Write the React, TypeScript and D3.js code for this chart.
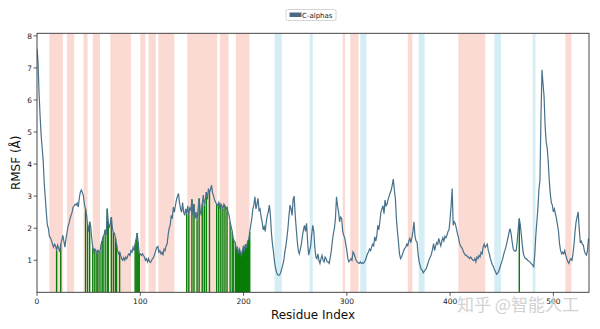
import React from "react";
import * as d3 from "d3";

// RMSF per residue (index = residue number)
const rmsf: number[] = [
  7.6, 7.2, 6.2, 5.5, 4.9, 4.5, 4.1, 3.4, 2.95, 2.5,
  2.1, 2.0, 1.75, 1.7, 1.62, 1.5, 1.41, 1.5, 1.45, 1.3,
  1.47, 1.38, 1.26, 1.5, 1.62, 1.78, 1.6, 1.41, 1.65, 1.85,
  2.05, 2.15, 2.3, 2.4, 2.5, 2.66, 2.7, 2.75, 2.72, 2.78,
  2.66, 2.95, 3.13, 3.19, 3.1, 3.0, 2.72, 2.6, 2.41, 2.1,
  1.89, 2.2, 2.05, 1.68, 1.4, 1.26, 1.35, 1.31, 1.2, 1.31,
  1.28, 1.26, 1.5, 1.6, 1.73, 1.8, 1.95, 1.8, 2.61, 2.2,
  2.0, 2.15, 2.35, 2.0, 1.85, 1.85, 1.7, 1.5, 1.3, 1.2,
  1.25, 1.15, 1.05, 1.0, 1.08, 1.0, 1.1, 1.05, 1.15, 1.2,
  1.15, 1.3, 1.25, 1.4, 1.3, 1.5, 1.65, 1.85, 1.55, 1.2,
  1.2, 1.15, 1.2, 1.15, 1.1, 1.0, 1.05, 0.95, 1.05, 0.95,
  0.93, 1.0, 1.05, 1.1, 1.2, 1.3, 1.4, 1.43, 1.25, 1.3,
  1.2, 1.25, 1.15, 1.35, 1.3, 1.45, 1.5, 1.8, 2.0, 2.1,
  2.4, 2.3, 2.66, 2.5, 2.7, 2.88, 3.0, 3.08, 2.8, 2.6,
  2.5, 2.8, 2.5, 2.4, 2.6, 2.45, 2.7, 2.4, 2.65, 2.55,
  2.9, 2.4, 2.75, 2.3, 2.5, 2.25, 2.6, 2.93, 2.55, 2.4,
  2.75, 3.03, 2.7, 2.9, 3.13, 2.9, 3.24, 3.1, 3.2, 3.34,
  3.1, 3.0, 2.88, 2.8, 2.75, 2.72, 2.8, 2.6, 2.75, 2.7,
  2.6, 2.75, 2.7, 2.6, 2.65, 2.5, 2.4, 2.2, 2.04, 1.9,
  1.68, 1.6, 1.55, 1.35, 1.4, 1.2, 1.35, 1.25, 1.15, 1.3,
  1.45, 1.3, 1.5, 1.4, 1.6, 1.65, 1.89, 2.1, 2.3, 2.6,
  2.72, 2.98, 2.6, 2.75, 2.93, 2.55, 2.6, 2.35, 2.2, 1.95,
  2.05, 1.9, 2.2, 2.4, 2.51, 2.72, 2.4, 1.85, 1.5, 1.26,
  0.95, 0.75, 0.62, 0.55, 0.53, 0.55, 0.62, 0.74, 0.85, 1.0,
  1.26, 1.45, 1.7, 2.0, 2.4, 2.72, 2.6, 2.4, 2.9, 3.0,
  2.41, 2.0, 1.6, 1.3, 1.2, 1.35, 1.5, 1.75, 1.95, 2.09,
  1.9, 2.15, 1.6, 1.16, 1.3, 1.45, 1.8, 2.09, 1.9, 1.4,
  1.1, 1.05, 1.2, 1.0, 0.9, 1.05, 1.15, 1.0, 0.95, 1.1,
  1.05, 0.95, 0.95, 0.9, 1.1, 1.3, 1.6, 1.83, 2.0, 2.3,
  2.98, 2.7, 2.51, 2.2, 2.35, 2.3, 1.9, 1.78, 1.7, 1.5,
  1.3, 1.05, 0.95, 1.0, 1.05, 1.0, 1.26, 1.2, 1.1, 1.0,
  0.95, 0.92, 0.9, 0.95, 0.9, 0.92, 0.9, 0.95, 1.0, 1.1,
  1.2, 1.26, 1.35, 1.3, 1.41, 1.5, 1.45, 1.73, 1.6, 1.75,
  2.09, 1.95, 2.2, 2.5, 2.61, 2.7, 2.45, 2.88, 2.7, 2.75,
  2.9, 3.0, 3.1, 3.19, 3.35, 3.53, 3.2, 2.93, 2.3, 1.9,
  1.57, 1.2, 1.05, 1.1, 1.2, 1.3, 1.37, 1.4, 1.5, 1.45,
  1.6, 1.68, 1.55, 1.7, 1.9, 2.2, 1.75, 1.6, 1.57, 1.2,
  0.95, 0.84, 0.72, 0.69, 0.61, 0.65, 0.7, 0.75, 0.85, 0.95,
  1.05, 1.11, 1.2, 1.35, 1.52, 1.3, 1.45, 1.55, 1.5, 1.68,
  1.55, 1.45, 1.6, 1.7, 1.6, 1.75, 1.7, 1.78, 1.9, 1.95,
  2.3, 2.7, 3.24, 2.09, 2.2, 2.15, 2.0, 1.85, 1.73, 1.55,
  1.45, 1.4, 1.35, 1.26, 1.2, 1.15, 1.15, 1.1, 1.1, 1.05,
  1.1, 1.05, 1.0, 0.99, 1.05, 0.95, 1.1, 1.05, 1.15, 1.1,
  1.25, 1.2, 1.41, 1.5, 1.4, 1.45, 1.5, 1.3, 1.2, 1.05,
  0.95, 0.85, 0.8, 0.7, 0.64, 0.56, 0.6, 0.65, 0.75, 0.85,
  0.95, 1.05, 1.2, 1.3, 1.41, 1.55, 1.7, 1.85, 1.99, 1.85,
  1.6, 1.37, 1.3, 1.28, 1.3, 1.6, 1.99, 2.3, 2.1, 1.8,
  1.45, 1.2, 1.1, 1.05, 1.05, 1.0, 0.98, 0.95, 0.92, 0.88,
  0.85, 0.8, 1.2, 1.78, 2.2, 2.61, 3.2, 3.5, 5.5, 6.94,
  6.5, 6.1, 5.2, 4.7, 4.5, 4.1, 3.5, 3.08, 2.8, 2.72,
  2.51, 2.6, 2.45, 2.3, 2.1, 1.89, 1.5, 1.3, 1.2, 1.25,
  1.2, 1.3, 1.15, 1.05, 0.95, 0.9, 1.0, 1.05, 1.0, 1.2,
  1.5, 1.9, 2.2, 2.35, 2.51, 2.0, 1.57, 1.6, 1.5, 1.47,
  1.3, 1.2, 1.16, 1.3, 1.68,
];

// Highlighted residues (green sticks)
const highlighted: number[] = [
  19, 23, 47, 49, 51, 54, 56, 58, 59, 61, 63, 64, 66, 68, 69, 72, 74, 76, 77, 80,
  95, 96, 97, 98, 99,
  145, 147, 150, 152, 155, 157, 160, 162, 164, 167, 174, 176, 178, 180, 182, 184,
  187, 189, 190, 192, 193, 194, 195, 196, 197, 198, 199, 200, 201, 202, 203, 204,
  205, 206, 467,
];

// Shaded regions [start, end] in residue units
const pinkSpans: [number, number][] = [
  [12, 25], [29, 36], [45, 49], [54, 61], [71, 91], [100, 105], [108, 115],
  [117.5, 133], [145.5, 174.5], [177, 185.5], [192.5, 205.7], [296, 298.4],
  [303.3, 311.3], [359, 363.4], [408, 434], [511.6, 517.4],
];
const blueSpans: [number, number][] = [
  [230, 237], [264, 267], [313, 319], [369.5, 375.3], [442.8, 449.3], [480, 482.6],
];

const xTicks = [0, 100, 200, 300, 400, 500];
const yTicks = [1, 2, 3, 4, 5, 6, 7, 8];

const W = 600;
const H = 329;
const L = 37, R = 589, T = 33.3, B = 292.3;

export default function App() {
  const x = d3.scaleLinear().domain([0, 534.5]).range([L, R]);
  const y = d3.scaleLinear().domain([0, 8.08]).range([B, T]);
  const data = rmsf.map((v, i) => [i, v] as [number, number]);
  const line = d3
    .line<[number, number]>()
    .x((d) => x(d[0]))
    .y((d) => y(d[1]));
  const font = "DejaVu Sans, sans-serif";

  return (
    <svg
      width={W}
      height={H}
      style={{ position: "absolute", left: 0, top: 0, background: "#fff" }}
      fontFamily={font}
    >
      <defs>
        <clipPath id="plot">
          <rect x={L} y={T} width={R - L} height={B - T} />
        </clipPath>
      </defs>
      <g clipPath="url(#plot)">
        {pinkSpans.map(([a, b], i) => (
          <rect key={"p" + i} x={x(a)} y={T} width={x(b) - x(a)} height={B - T} fill="#fbdad3" />
        ))}
        {blueSpans.map(([a, b], i) => (
          <rect key={"b" + i} x={x(a)} y={T} width={x(b) - x(a)} height={B - T} fill="#d5eef5" />
        ))}
        {highlighted.map((r) => (
          <line
            key={"g" + r}
            x1={x(r)}
            x2={x(r)}
            y1={y(0)}
            y2={y(rmsf[r])}
            stroke="#087c08"
            strokeWidth={1.4}
          />
        ))}
        <path d={line(data) || ""} fill="none" stroke="#47708b" strokeWidth={1.2} />
      </g>
      {/* frame */}
      <rect x={L} y={T} width={R - L} height={B - T} fill="none" stroke="#333" strokeWidth={0.9} />
      {/* x ticks */}
      {xTicks.map((t) => (
        <g key={"xt" + t}>
          <line x1={x(t)} x2={x(t)} y1={B} y2={B + 3.5} stroke="#333" strokeWidth={0.8} />
          <text x={x(t)} y={B + 12} fontSize={7.5} textAnchor="middle" fill="#222">
            {t}
          </text>
        </g>
      ))}
      {yTicks.map((t) => (
        <g key={"yt" + t}>
          <line x1={L - 3.5} x2={L} y1={y(t)} y2={y(t)} stroke="#333" strokeWidth={0.8} />
          <text x={L - 5} y={y(t) + 2.7} fontSize={7.5} textAnchor="end" fill="#222">
            {t}
          </text>
        </g>
      ))}
      <text x={(L + R) / 2} y={319} fontSize={12} textAnchor="middle" fill="#111">
        Residue Index
      </text>
      <text
        transform={`translate(20, ${(T + B) / 2}) rotate(-90)`}
        fontSize={12}
        textAnchor="middle"
        fill="#111"
      >
        RMSF (Å)
      </text>
      {/* legend */}
      <rect x={286} y={9.5} width={50} height={11} rx={1.5} fill="#fff" stroke="#ccc" strokeWidth={0.8} />
      <rect x={289.5} y={12.5} width={12} height={4.5} fill="#4a6a85" />
      <text x={302} y={18} fontSize={7} fill="#222">
        C-alphas
      </text>
      {/* watermark */}
      <text
        x={457}
        y={311}
        fontSize={17}
        fill="#d2d2d2"
        fontFamily="Noto Sans CJK SC, sans-serif"
      >
        知乎 @智能人工
      </text>
    </svg>
  );
}
